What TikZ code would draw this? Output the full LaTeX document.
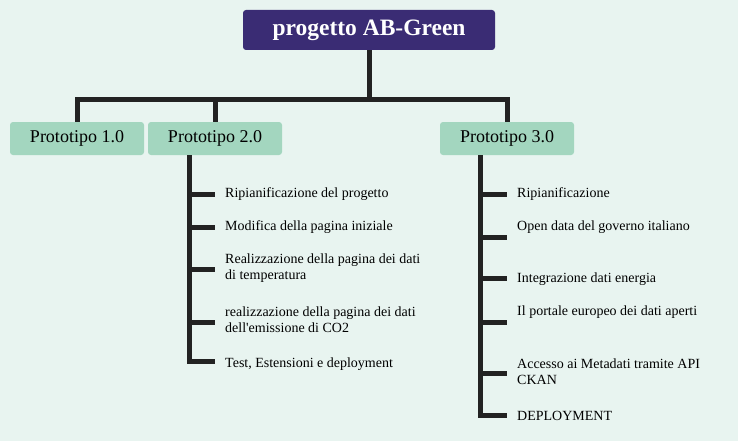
\documentclass[tikz,border=0pt]{standalone}
\usepackage{fontspec}
\setmainfont{Liberation Serif}
\usepackage{tikz}
\usepackage{xcolor}

\definecolor{bgcol}{HTML}{E8F4F0}
\definecolor{rootcol}{HTML}{3A2C74}
\definecolor{protocol}{HTML}{A3D6BF}
\definecolor{linecol}{HTML}{222222}

\tikzset{
    rootbox/.style={fill=rootcol, rounded corners=3pt, text=white, font=\fontsize{23.5}{26}\selectfont\bfseries,
        minimum width=252pt, minimum height=40pt, inner sep=0pt},
    protobox/.style={fill=protocol, rounded corners=3pt, font=\fontsize{18}{20}\selectfont,
        minimum width=134pt, minimum height=33pt, inner sep=0pt},
    branch/.style={draw=linecol, line width=5pt},
    item/.style={anchor=west, align=left, inner sep=0pt, yshift=-2pt, font=\fontsize{14}{16}\selectfont}
}

\begin{document}
\begin{tikzpicture}[x=1pt,y=-1pt]
    % Background
    \fill[bgcol] (0,0) rectangle (738,441);
    \useasboundingbox (0,0) rectangle (738,441);

    % Root
    \node[rootbox] (root) at (369,30) {progetto AB-Green};

    % Prototypes
    \node[protobox] (proto1) at (77,138.5) {Prototipo 1.0};
    \node[protobox] (proto2) at (215,138.5) {Prototipo 2.0};
    \node[protobox] (proto3) at (507,138.5) {Prototipo 3.0};

    % Main branches
    \coordinate (hub) at (369,100);
    \draw[branch] (root.south) -- (hub);
    \draw[branch] (proto1.north) |- (hub);
    \draw[branch] (proto2.north) |- (hub);
    \draw[branch] (proto3.north) |- (hub);

    % Prototipo 2.0 tasks
    \node[item] (a1) at (225,192) {Ripianificazione del progetto};
    \node[item] (a2) at (225,225) {Modifica della pagina iniziale};
    \node[item] (a3) at (225,266) {Realizzazione della pagina dei dati\\di temperatura};
    \node[item] (a4) at (225,318) {realizzazione della pagina dei dati\\dell\textquotesingle emissione di CO2};
    \node[item] (a5) at (225,362) {Test, Estensioni e deployment};

    \coordinate (ta1) at (215,194);
    \coordinate (ta2) at (215,227);
    \coordinate (ta3) at (215,269);
    \coordinate (ta4) at (215,322);
    \coordinate (ta5) at (215,361.5);
    \coordinate (trunk2) at (189,155);
    \draw[branch] (trunk2) |- (ta5);
    \draw[branch] (trunk2 |- ta1) -- (ta1);
    \draw[branch] (trunk2 |- ta2) -- (ta2);
    \draw[branch] (trunk2 |- ta3) -- (ta3);
    \draw[branch] (trunk2 |- ta4) -- (ta4);

    % Prototipo 3.0 tasks
    \node[item] (b1) at (517,192) {Ripianificazione};
    \node[item] (b2) at (517,225) {Open data del governo italiano};
    \node[item] (b3) at (517,277) {Integrazione dati energia};
    \node[item] (b4) at (517,310) {Il portale europeo dei dati aperti};
    \node[item] (b5) at (517,370) {Accesso ai Metadati tramite API\\CKAN};
    \node[item] (b6) at (517,414) {DEPLOYMENT};

    \coordinate (tb1) at (507,194);
    \coordinate (tb2) at (507,237);
    \coordinate (tb3) at (507,278);
    \coordinate (tb4) at (507,322);
    \coordinate (tb5) at (507,373);
    \coordinate (tb6) at (507,415);
    \coordinate (trunk3) at (480,155);
    \draw[branch] (trunk3) |- (tb6);
    \draw[branch] (trunk3 |- tb1) -- (tb1);
    \draw[branch] (trunk3 |- tb2) -- (tb2);
    \draw[branch] (trunk3 |- tb3) -- (tb3);
    \draw[branch] (trunk3 |- tb4) -- (tb4);
    \draw[branch] (trunk3 |- tb5) -- (tb5);
\end{tikzpicture}
\end{document}
